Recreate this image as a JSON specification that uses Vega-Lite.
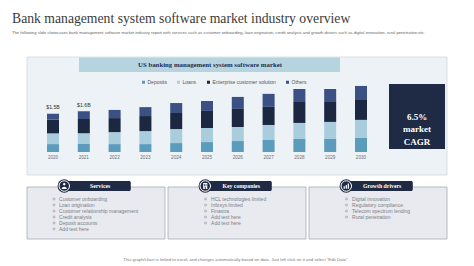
{
  "$schema": "https://vega.github.io/schema/vega-lite/v6.json",
  "width": 474,
  "height": 266,
  "padding": 0,
  "autosize": {"type": "none"},
  "background": "white",
  "config": {"view": {"stroke": null}},
  "datasets": {
    "market": [
      {"year": "2020", "segment": "Deposits", "value": 0.31},
      {"year": "2020", "segment": "Loans", "value": 0.42},
      {"year": "2020", "segment": "Enterprise customer solution", "value": 0.54},
      {"year": "2020", "segment": "Others", "value": 0.23},
      {"year": "2021", "segment": "Deposits", "value": 0.31},
      {"year": "2021", "segment": "Loans", "value": 0.43},
      {"year": "2021", "segment": "Enterprise customer solution", "value": 0.55},
      {"year": "2021", "segment": "Others", "value": 0.31},
      {"year": "2022", "segment": "Deposits", "value": 0.31},
      {"year": "2022", "segment": "Loans", "value": 0.47},
      {"year": "2022", "segment": "Enterprise customer solution", "value": 0.55},
      {"year": "2022", "segment": "Others", "value": 0.32},
      {"year": "2023", "segment": "Deposits", "value": 0.31},
      {"year": "2023", "segment": "Loans", "value": 0.51},
      {"year": "2023", "segment": "Enterprise customer solution", "value": 0.59},
      {"year": "2023", "segment": "Others", "value": 0.35},
      {"year": "2024", "segment": "Deposits", "value": 0.35},
      {"year": "2024", "segment": "Loans", "value": 0.55},
      {"year": "2024", "segment": "Enterprise customer solution", "value": 0.63},
      {"year": "2024", "segment": "Others", "value": 0.39},
      {"year": "2025", "segment": "Deposits", "value": 0.39},
      {"year": "2025", "segment": "Loans", "value": 0.55},
      {"year": "2025", "segment": "Enterprise customer solution", "value": 0.67},
      {"year": "2025", "segment": "Others", "value": 0.39},
      {"year": "2026", "segment": "Deposits", "value": 0.43},
      {"year": "2026", "segment": "Loans", "value": 0.55},
      {"year": "2026", "segment": "Enterprise customer solution", "value": 0.71},
      {"year": "2026", "segment": "Others", "value": 0.47},
      {"year": "2027", "segment": "Deposits", "value": 0.47},
      {"year": "2027", "segment": "Loans", "value": 0.59},
      {"year": "2027", "segment": "Enterprise customer solution", "value": 0.71},
      {"year": "2027", "segment": "Others", "value": 0.51},
      {"year": "2028", "segment": "Deposits", "value": 0.51},
      {"year": "2028", "segment": "Loans", "value": 0.63},
      {"year": "2028", "segment": "Enterprise customer solution", "value": 0.82},
      {"year": "2028", "segment": "Others", "value": 0.51},
      {"year": "2029", "segment": "Deposits", "value": 0.51},
      {"year": "2029", "segment": "Loans", "value": 0.67},
      {"year": "2029", "segment": "Enterprise customer solution", "value": 0.78},
      {"year": "2029", "segment": "Others", "value": 0.51},
      {"year": "2030", "segment": "Deposits", "value": 0.55},
      {"year": "2030", "segment": "Loans", "value": 0.71},
      {"year": "2030", "segment": "Enterprise customer solution", "value": 0.78},
      {"year": "2030", "segment": "Others", "value": 0.55}
    ],
    "panels": [
      {"panel": "Services"},
      {"panel": "Key companies"},
      {"panel": "Growth drivers"}
    ],
    "items": [
      {"panel": "Services", "order": 1, "item": "Customer onboarding"},
      {"panel": "Services", "order": 2, "item": "Loan origination"},
      {"panel": "Services", "order": 3, "item": "Customer relationship management"},
      {"panel": "Services", "order": 4, "item": "Credit analysis"},
      {"panel": "Services", "order": 5, "item": "Deposit accounts"},
      {"panel": "Services", "order": 6, "item": "Add text here"},
      {"panel": "Key companies", "order": 1, "item": "HCL technologies limited"},
      {"panel": "Key companies", "order": 2, "item": "Infosys limited"},
      {"panel": "Key companies", "order": 3, "item": "Finastra"},
      {"panel": "Key companies", "order": 4, "item": "Add text here"},
      {"panel": "Key companies", "order": 5, "item": "Add text here"},
      {"panel": "Growth drivers", "order": 1, "item": "Digital innovation"},
      {"panel": "Growth drivers", "order": 2, "item": "Regulatory compliance"},
      {"panel": "Growth drivers", "order": 3, "item": "Telecom spectrum lending"},
      {"panel": "Growth drivers", "order": 4, "item": "Rural penetration"}
    ]
  },
  "layer": [
    {
      "data": {"values": [{"text": "Bank management system software market industry overview"}]},
      "mark": {"type": "text", "align": "left", "baseline": "alphabetic", "font": "Liberation Serif", "fontSize": 13.7, "color": "#3a3a3a"},
      "encoding": {"x": {"value": 12}, "y": {"value": 23}, "text": {"field": "text"}}
    },
    {
      "data": {"values": [{"text": "The following slide showcases bank management software market industry report with services such as customer onboarding, loan origination, credit analysis and growth drivers such as digital innovation, rural penetration etc."}]},
      "mark": {"type": "text", "align": "left", "baseline": "middle", "font": "Liberation Sans", "fontSize": 4.17, "color": "#666666"},
      "encoding": {"x": {"value": 12}, "y": {"value": 33}, "text": {"field": "text"}}
    },
    {
      "data": {"values": [{"part": "market panel"}]},
      "mark": {"type": "rect", "fill": "#edf2f7", "stroke": "#d3d8de", "strokeWidth": 0.8},
      "encoding": {"x": {"value": 27}, "x2": {"value": 447}, "y": {"value": 57}, "y2": {"value": 175}}
    },
    {
      "data": {"values": [{"part": "market header"}]},
      "mark": {"type": "rect", "fill": "#b5d4e0"},
      "encoding": {"x": {"value": 79}, "x2": {"value": 340}, "y": {"value": 57.5}, "y2": {"value": 72}}
    },
    {
      "data": {"values": [{"text": "US banking management system software market"}]},
      "mark": {"type": "text", "align": "center", "baseline": "middle", "font": "Liberation Serif", "fontWeight": "bold", "fontSize": 6.8, "color": "#1f2d4d"},
      "encoding": {"x": {"value": 210}, "y": {"value": 65}, "text": {"field": "text"}}
    },
    {
      "data": {"name": "market"},
      "layer": [
        {
          "transform": [{"calculate": "indexof(['Deposits', 'Loans', 'Enterprise customer solution', 'Others'], datum.segment)", "as": "stackRank"}],
          "mark": {"type": "bar"},
          "encoding": {
            "x": {"field": "year", "type": "ordinal", "scale": {"range": [27, 387], "paddingInner": 0.61, "paddingOuter": 0.65}, "axis": null},
            "y": {"field": "value", "type": "quantitative", "stack": "zero", "scale": {"domain": [0, 4], "range": [152, 50], "nice": false}, "axis": null},
            "order": {"field": "stackRank", "type": "quantitative", "sort": "ascending"},
            "color": {
              "field": "segment",
              "type": "nominal",
              "sort": ["Deposits", "Loans", "Enterprise customer solution", "Others"],
              "scale": {"domain": ["Deposits", "Loans", "Enterprise customer solution", "Others"], "range": ["#5b9cbc", "#a9cddc", "#1c2742", "#3b5184"]},
              "legend": {"orient": "none", "legendX": 141, "legendY": 79.5, "direction": "horizontal", "title": null, "symbolType": "square", "symbolSize": 9, "symbolStrokeWidth": 0, "labelFontSize": 5, "labelFont": "Liberation Sans", "labelColor": "#555555", "columnPadding": 9, "labelOffset": 1.5, "padding": 0}
            }
          }
        },
        {
          "transform": [{"aggregate": [{"op": "sum", "field": "value", "as": "total"}], "groupby": ["year"]}],
          "layer": [
            {
              "mark": {"type": "text", "baseline": "middle", "dy": 5.5, "font": "Liberation Sans", "fontSize": 4.6, "color": "#6b6f76"},
              "encoding": {"x": {"field": "year", "type": "ordinal"}, "y": {"datum": 0, "type": "quantitative"}, "text": {"field": "year"}}
            },
            {
              "transform": [{"filter": "datum.year <= '2021'"}, {"calculate": "'$' + format(datum.total, '.1f') + 'B'", "as": "label"}],
              "mark": {"type": "text", "baseline": "alphabetic", "dy": -4.5, "font": "Liberation Sans", "fontSize": 5.2, "color": "#333333"},
              "encoding": {"x": {"field": "year", "type": "ordinal"}, "y": {"field": "total", "type": "quantitative"}, "text": {"field": "label"}}
            }
          ]
        }
      ]
    },
    {
      "data": {"values": [{"text": "6.5%\nmarket\nCAGR"}]},
      "layer": [
        {
          "mark": {"type": "rect", "fill": "#1f2a44"},
          "encoding": {"x": {"value": 389}, "x2": {"value": 445}, "y": {"value": 84}, "y2": {"value": 149}}
        },
        {
          "mark": {"type": "text", "align": "center", "baseline": "middle", "lineBreak": "\n", "lineHeight": 12.5, "font": "Liberation Serif", "fontWeight": "bold", "fontSize": 9, "color": "white"},
          "encoding": {"x": {"value": 417}, "y": {"value": 116.5}, "text": {"field": "text"}}
        }
      ]
    },
    {
      "layer": [
        {
          "data": {"name": "panels"},
          "mark": {"type": "rect", "fill": "#e8eaef", "stroke": "#a6abb2", "strokeWidth": 0.8},
          "encoding": {
            "x": {"field": "panel", "type": "nominal", "sort": ["Services", "Key companies", "Growth drivers"], "scale": {"domain": ["Services", "Key companies", "Growth drivers"], "range": [27, 447], "paddingInner": 0.0213, "paddingOuter": 0}, "axis": null},
            "y": {"value": 187},
            "y2": {"value": 239}
          }
        },
        {
          "data": {"name": "panels"},
          "mark": {"type": "rect", "fill": "#1f2a44", "cornerRadius": 1.5},
          "encoding": {
            "x": {"field": "panel", "type": "nominal", "bandPosition": 0.29},
            "x2": {"field": "panel", "bandPosition": 0.752},
            "y": {"value": 181},
            "y2": {"value": 191}
          }
        },
        {
          "data": {"name": "panels"},
          "mark": {"type": "point", "shape": "circle", "filled": true, "size": 180, "color": "#1f2a44", "opacity": 1},
          "encoding": {"x": {"field": "panel", "type": "nominal", "bandPosition": 0.27}, "y": {"value": 186}}
        },
        {
          "data": {"name": "panels"},
          "mark": {"type": "point", "shape": "circle", "filled": false, "size": 110, "stroke": "white", "strokeWidth": 1, "opacity": 1},
          "encoding": {"x": {"field": "panel", "type": "nominal", "bandPosition": 0.27}, "y": {"value": 186}}
        },
        {
          "data": {"name": "panels"},
          "mark": {"type": "point", "filled": true, "size": 40, "color": "white", "opacity": 1},
          "encoding": {
            "x": {"field": "panel", "type": "nominal", "bandPosition": 0.27},
            "y": {"value": 186},
            "shape": {
              "field": "panel",
              "type": "nominal",
              "scale": {
                "domain": ["Services", "Key companies", "Growth drivers"],
                "range": [
                  "M0,-0.95 A0.38,0.38 0 1,1 0,-0.19 A0.38,0.38 0 1,1 0,-0.95 Z M-0.8,0.95 C-0.8,0.05 0.8,0.05 0.8,0.95 Z",
                  "M-0.65,-0.95 L0.65,-0.95 L0.65,0.95 L-0.65,0.95 Z M-0.4,-0.65 L-0.4,-0.4 L-0.1,-0.4 L-0.1,-0.65 Z M0.1,-0.65 L0.1,-0.4 L0.4,-0.4 L0.4,-0.65 Z M-0.4,-0.2 L-0.4,0.05 L-0.1,0.05 L-0.1,-0.2 Z M0.1,-0.2 L0.1,0.05 L0.4,0.05 L0.4,-0.2 Z M-0.15,0.35 L-0.15,0.95 L0.15,0.95 L0.15,0.35 Z",
                  "M-0.85,0.85 L-0.45,0.85 L-0.45,0.05 L-0.85,0.05 Z M-0.2,0.85 L0.2,0.85 L0.2,-0.35 L-0.2,-0.35 Z M0.45,0.85 L0.85,0.85 L0.85,-0.8 L0.45,-0.8 Z"
                ]
              },
              "legend": null
            }
          }
        },
        {
          "data": {"name": "panels"},
          "mark": {"type": "text", "align": "center", "baseline": "middle", "font": "Liberation Serif", "fontWeight": "bold", "fontSize": 5.8, "color": "white"},
          "encoding": {"x": {"field": "panel", "type": "nominal", "bandPosition": 0.53}, "y": {"value": 186}, "text": {"field": "panel"}}
        },
        {
          "data": {"name": "items"},
          "transform": [{"filter": "datum.panel === 'Services'"}],
          "layer": [
            {
              "mark": {"type": "point", "shape": "square", "filled": false, "size": 3, "stroke": "#8a8f97", "strokeWidth": 0.5, "opacity": 1},
              "encoding": {"x": {"field": "panel", "type": "nominal", "bandPosition": 0.196}, "y": {"field": "order", "type": "ordinal", "scale": {"type": "point", "range": [199, 229], "padding": 0}, "axis": null}}
            },
            {
              "mark": {"type": "text", "align": "left", "baseline": "middle", "font": "Liberation Sans", "fontSize": 5, "color": "#7a7f88"},
              "encoding": {"x": {"field": "panel", "type": "nominal", "bandPosition": 0.232}, "y": {"field": "order", "type": "ordinal"}, "text": {"field": "item"}}
            }
          ]
        },
        {
          "data": {"name": "items"},
          "transform": [{"filter": "datum.panel !== 'Services'"}],
          "layer": [
            {
              "mark": {"type": "point", "shape": "square", "filled": false, "size": 3, "stroke": "#8a8f97", "strokeWidth": 0.5, "opacity": 1},
              "encoding": {"x": {"field": "panel", "type": "nominal", "bandPosition": 0.272}, "y": {"field": "order", "type": "ordinal"}}
            },
            {
              "mark": {"type": "text", "align": "left", "baseline": "middle", "font": "Liberation Sans", "fontSize": 5, "color": "#7a7f88"},
              "encoding": {"x": {"field": "panel", "type": "nominal", "bandPosition": 0.312}, "y": {"field": "order", "type": "ordinal"}, "text": {"field": "item"}}
            }
          ]
        }
      ]
    },
    {
      "data": {"values": [{"text": "This graph/chart is linked to excel, and changes automatically based on data. Just left click on it and select \"Edit Data\"."}]},
      "mark": {"type": "text", "align": "center", "baseline": "middle", "font": "Liberation Sans", "fontSize": 4.3, "color": "#777777"},
      "encoding": {"x": {"value": 236}, "y": {"value": 260}, "text": {"field": "text"}}
    }
  ],
  "resolve": {"scale": {"x": "independent", "y": "independent", "color": "independent", "shape": "independent"}}
}
